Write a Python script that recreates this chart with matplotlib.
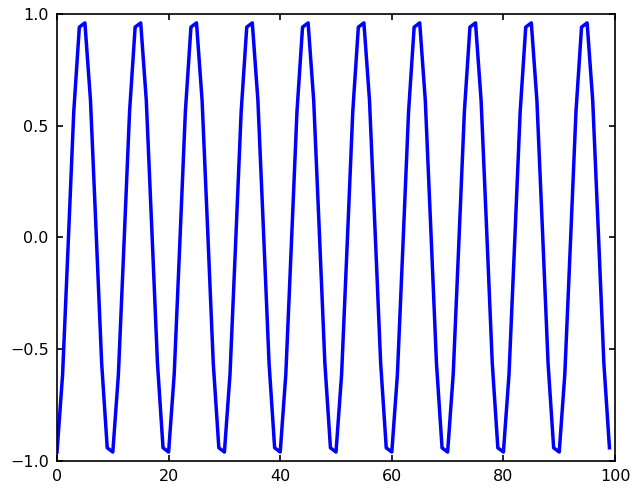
import matplotlib
matplotlib.use("Agg")
import matplotlib.pyplot as plt

# one sample per integer step (period of 10 steps)
x_vals = list(range(100))
y_vals = [
    -0.960, -0.613, -0.031, 0.562, 0.941, 0.960, 0.613, 0.031, -0.562, -0.941,
    -0.960, -0.613, -0.031, 0.562, 0.941, 0.960, 0.613, 0.031, -0.562, -0.941,
    -0.960, -0.613, -0.031, 0.562, 0.941, 0.960, 0.613, 0.031, -0.562, -0.941,
    -0.960, -0.613, -0.031, 0.562, 0.941, 0.960, 0.613, 0.031, -0.562, -0.941,
    -0.960, -0.613, -0.031, 0.562, 0.941, 0.960, 0.613, 0.031, -0.562, -0.941,
    -0.960, -0.613, -0.031, 0.562, 0.941, 0.960, 0.613, 0.031, -0.562, -0.941,
    -0.960, -0.613, -0.031, 0.562, 0.941, 0.960, 0.613, 0.031, -0.562, -0.941,
    -0.960, -0.613, -0.031, 0.562, 0.941, 0.960, 0.613, 0.031, -0.562, -0.941,
    -0.960, -0.613, -0.031, 0.562, 0.941, 0.960, 0.613, 0.031, -0.562, -0.941,
    -0.960, -0.613, -0.031, 0.562, 0.941, 0.960, 0.613, 0.031, -0.562, -0.941,
]
x_ticks = [0, 20, 40, 60, 80, 100]
y_ticks = [-1.0, -0.5, 0.0, 0.5, 1.0]

fig = plt.figure(figsize=(6.37, 4.94), dpi=100)
ax = fig.add_axes([0.0895, 0.0668, 0.876, 0.905])

ax.plot(x_vals, y_vals, color="#0000ff", linewidth=2.5)

ax.set_xlim(0, 100)
ax.set_ylim(-1.0, 1.0)
ax.set_xticks(x_ticks)
ax.set_yticks(y_ticks)
ax.tick_params(direction="in", top=True, right=True, length=4, width=1.2,
               labelsize=11.5, pad=6)
for spine in ax.spines.values():
    spine.set_linewidth(1.2)

fig.savefig("out.png", dpi=100)
